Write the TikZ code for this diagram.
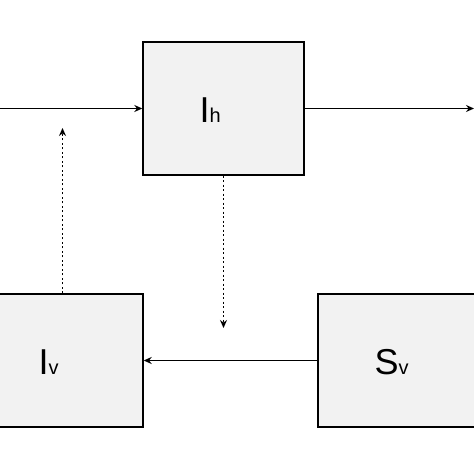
\documentclass[tikz,border=0pt]{standalone}
\usepackage{fontspec}
\setmainfont{Liberation Sans}
\usetikzlibrary{arrows.meta}
\definecolor{boxgray}{HTML}{F2F2F2}
\tikzset{
  box/.style={draw, line width=1.4pt, fill=boxgray, minimum width=161pt, minimum height=133pt, inner sep=0pt},
  lbl/.style={anchor=base west, inner sep=0pt, font=\fontsize{36}{40}\selectfont},
  flow/.style={line width=1.3pt, -{Stealth[length=8pt,width=7pt]}},
  hint/.style={flow, dash pattern=on 2pt off 2.5pt}
}
\begin{document}
\begin{tikzpicture}[x=1pt, y=1pt]
      \useasboundingbox (0,0) rectangle (474,474);
      \clip (0,0) rectangle (474,474);

      % Compartimentos
      \node[box] (Ih) at (223.5,365.5) {};
      \node[box] (Iv) at (62.5,113.5) {};
      \node[box] (Sv) at (398.5,113.5) {};

      % Rotulos
      \node[lbl] (tIh) at ([xshift=-24pt,yshift=-14pt]Ih.center) {I{\fontsize{20}{24}\selectfont h}};
      \node[lbl] (tIv) at ([xshift=-24pt,yshift=-14pt]Iv.center) {I{\fontsize{20}{24}\selectfont v}};
      \node[lbl] (tSv) at ([xshift=-24pt,yshift=-14pt]Sv.center) {S{\fontsize{20}{24}\selectfont v}};

      % Pontas livres
      \coordinate (in) at (0,365.5);
      \coordinate (out) at (474,365.5);
      \coordinate (up) at (62.5,346);
      \coordinate (down) at (223.5,146);

      % Setas
      \draw[flow] (in) -- (Ih.west);
      \draw[flow] (Ih.east) -- (out);
      \draw[flow] (Sv.west) -- (Iv.east);
      \draw[hint] (Iv.north) -- (up);
      \draw[hint] (Ih.south) -- (down);
    \end{tikzpicture}
\end{document}
